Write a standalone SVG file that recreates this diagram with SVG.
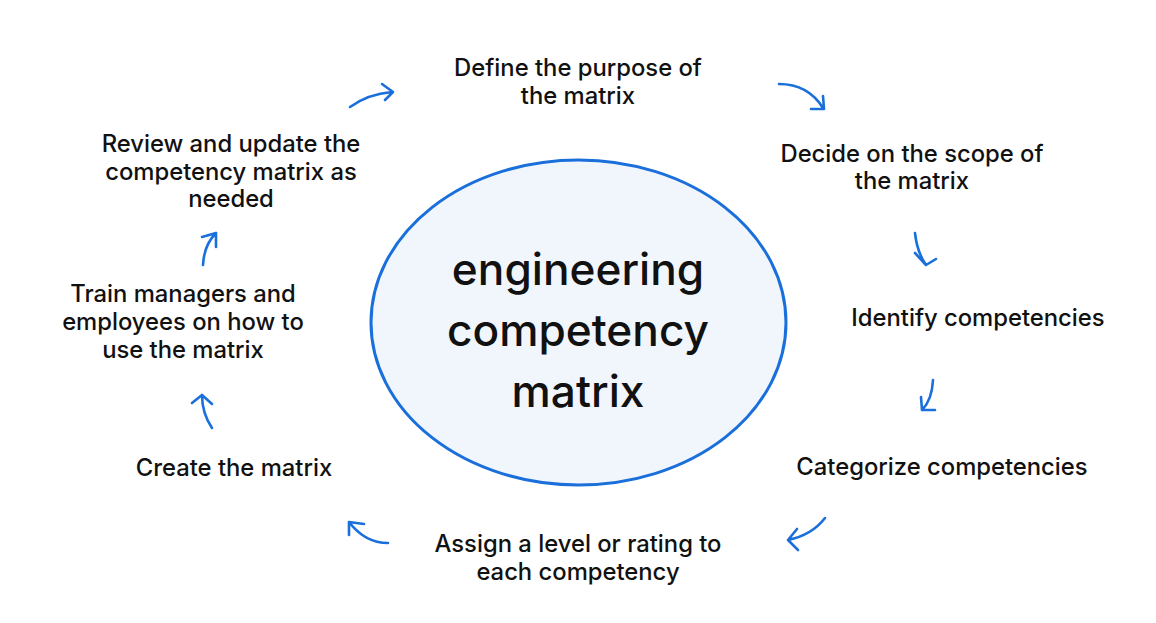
<svg xmlns="http://www.w3.org/2000/svg" width="1156" height="623" viewBox="0 0 1156 623">
<style>
.lbl{font-family:Inter,"Liberation Sans",sans-serif;font-size:23.8px;font-weight:450;fill:#111;text-anchor:middle}
.ctr{font-family:Inter,"Liberation Sans",sans-serif;font-size:44.2px;font-weight:450;fill:#111;text-anchor:middle}
.arr{fill:none;stroke:#1A6FDB;stroke-width:2.6;stroke-linecap:round;stroke-linejoin:round}
</style>
<rect width="1156" height="623" fill="#ffffff"/>
<g id="center">
<ellipse cx="578.5" cy="322.5" rx="207.5" ry="162.5" fill="#F1F6FD" stroke="#1A6FDB" stroke-width="3"/>
<text class="ctr" x="578" y="285">engineering</text>
<text class="ctr" x="578" y="346">competency</text>
<text class="ctr" x="578" y="407">matrix</text>
</g>
<g id="define"><text class="lbl" x="578" y="76">Define the purpose of</text><text class="lbl" x="578" y="104">the matrix</text></g>
<g id="decide"><text class="lbl" x="912" y="162">Decide on the scope of</text><text class="lbl" x="912" y="189">the matrix</text></g>
<g id="identify"><text class="lbl" x="978" y="326">Identify competencies</text></g>
<g id="categorize"><text class="lbl" x="942" y="475">Categorize competencies</text></g>
<g id="assign"><text class="lbl" x="578" y="552">Assign a level or rating to</text><text class="lbl" x="578" y="580">each competency</text></g>
<g id="create"><text class="lbl" x="234" y="476">Create the matrix</text></g>
<g id="train"><text class="lbl" x="183" y="302">Train managers and</text><text class="lbl" x="183" y="330">employees on how to</text><text class="lbl" x="183" y="358">use the matrix</text></g>
<g id="review"><text class="lbl" x="231" y="152">Review and update the</text><text class="lbl" x="231" y="180">competency matrix as</text><text class="lbl" x="231" y="207">needed</text></g>
<g id="connectors" class="arr">
<path d="M350,107 Q368,94 392,92 M382,84 L393,92 L385,100"/>
<path d="M779,84 Q808,84 823,108 M811,109 L824,109 L823,96"/>
<path d="M915,233 Q917,252 926,265 M915,253 L926,265 L936,259"/>
<path d="M933,380 Q932,400 922,410 M921,397 L922,410 L935,410"/>
<path d="M825,518 Q812,535 788,540 M797,529 L788,540 L798,550"/>
<path d="M388,543 Q365,543 349,522 M349,535 L349,522 L364,524"/>
<path d="M212,428 Q202,413 202,395 M192,403 L202,395 L212,404"/>
<path d="M203,265 Q204,245 216,233 M202,237 L216,233 L216,247"/>
</g>
</svg>
